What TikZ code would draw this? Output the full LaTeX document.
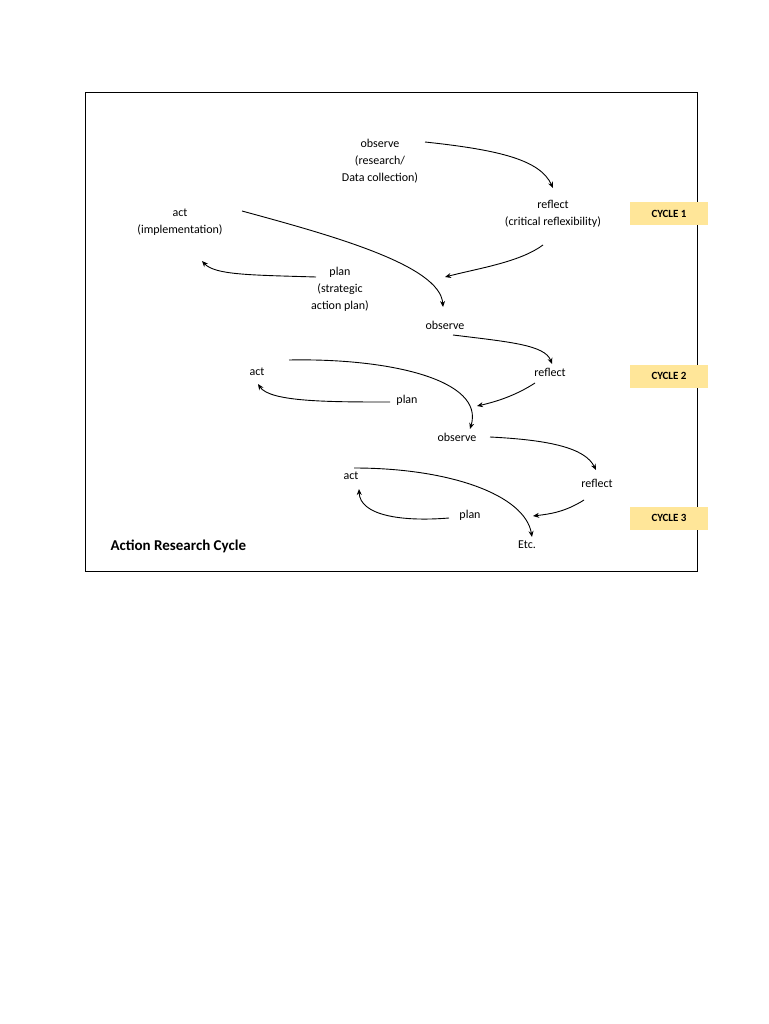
\documentclass[tikz,border=0pt]{standalone}
\usepackage{fontspec}
\setmainfont{Carlito}
\usetikzlibrary{arrows.meta}
\begin{document}
\begin{tikzpicture}[x=1pt,y=-1pt,
  lbl/.style={align=center,font=\fontsize{12}{17}\selectfont,inner sep=1pt},
  cyc/.style={fill=yellow!35!orange!30,fill=cyccol,minimum width=78pt,minimum height=23pt,font=\fontsize{11}{13}\selectfont\bfseries,inner sep=0pt},
  arr/.style={-{Stealth[length=6pt,width=5pt]},line width=0.9pt}]
\definecolor{cyccol}{HTML}{FFE699}
\useasboundingbox (0,0) rectangle (768,1024);
\draw[line width=1pt] (85,93) rectangle (697,571);
\node[lbl] (o1) at (380,161) {observe\\(research/\\Data collection)};
\node[lbl] (r1) at (553,214) {reflect\\(critical reflexibility)};
\node[lbl] (a1) at (180,222) {act\\(implementation)};
\node[lbl] (p1) at (340,289) {plan\\(strategic\\action plan)};
\node[lbl] (o2) at (445,325) {observe};
\node[lbl] (r2) at (550,372) {reflect};
\node[lbl] (a2) at (257,372) {act};
\node[lbl] (p2) at (407,400) {plan};
\node[lbl] (o3) at (457,437) {observe};
\node[lbl] (r3) at (597,483) {reflect};
\node[lbl] (a3) at (351,476) {act};
\node[lbl] (p3) at (470,515) {plan};
\node[lbl] (e) at (527,545) {Etc.};
\node[font=\fontsize{15}{17}\selectfont\bfseries,anchor=west] (t) at (107,546) {Action Research Cycle};
\node[cyc] (c1) at (669,214) {CYCLE 1};
\node[cyc] (c2) at (669,376) {CYCLE 2};
\node[cyc] (c3) at (669,518) {CYCLE 3};
\coordinate (s1) at (425,142); \coordinate (e1) at (553,188);
\coordinate (s2) at (543,245); \coordinate (e2) at (445,277);
\coordinate (s3) at (242,211); \coordinate (e3) at (443,307);
\coordinate (s4) at (316,277); \coordinate (e4) at (202,261);
\coordinate (s5) at (453,335); \coordinate (e5) at (552,364);
\coordinate (s6) at (535,383); \coordinate (e6) at (477,406);
\coordinate (s7) at (289,360); \coordinate (e7) at (470,429);
\coordinate (s8) at (390,402); \coordinate (e8) at (258,384);
\coordinate (s9) at (490,437); \coordinate (e9) at (596,470);
\coordinate (s10) at (584,500); \coordinate (e10) at (533,516);
\coordinate (s11) at (354,468); \coordinate (e11) at (532,537);
\coordinate (s12) at (449,518); \coordinate (e12) at (359,489);
\draw[arr] (s1) .. controls (500,150) and (540,160) .. (e1);
\draw[arr] (s2) .. controls (520,262) and (480,268) .. (e2);
\draw[arr] (s3) .. controls (330,235) and (440,265) .. (e3);
\draw[arr] (s4) .. controls (250,275) and (215,275) .. (e4);
\draw[arr] (s5) .. controls (510,342) and (545,345) .. (e5);
\draw[arr] (s6) .. controls (515,396) and (495,402) .. (e6);
\draw[arr] (s7) .. controls (390,358) and (485,380) .. (e7);
\draw[arr] (s8) .. controls (330,402) and (270,402) .. (e8);
\draw[arr] (s9) .. controls (550,440) and (585,448) .. (e9);
\draw[arr] (s10) .. controls (565,512) and (550,514) .. (e10);
\draw[arr] (s11) .. controls (450,468) and (525,495) .. (e11);
\draw[arr] (s12) .. controls (400,522) and (360,515) .. (e12);
\end{tikzpicture}
\end{document}
